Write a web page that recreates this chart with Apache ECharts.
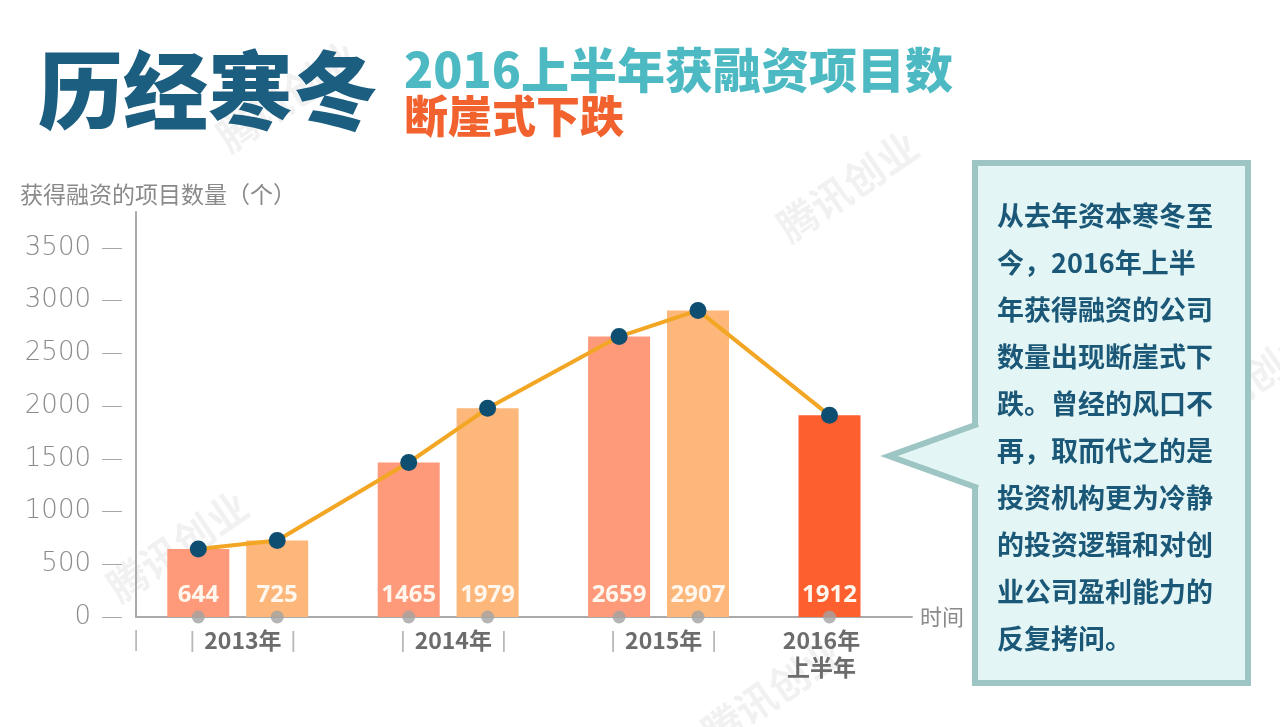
<!DOCTYPE html>
<html>
<head>
<meta charset="utf-8">
<script src="https://cdn.jsdelivr.net/npm/echarts@6/dist/echarts.min.js"></script>
<style>
  html, body { margin: 0; padding: 0; background: #fff; }
  #main { width: 1280px; height: 727px; }
</style>
</head>
<body>
<div id="main"></div>
<script>
// funded projects per half year, 2013 ~ 2016 H1
const years = ['2013年', '2014年', '2015年', '2016年\n上半年'];
const halfYearCounts = [644, 725, 1465, 1979, 2659, 2907, 1912];
const halfYearYear = [0, 0, 1, 1, 2, 2, 3];
const halfYearPart = [0, 1, 0, 1, 0, 1, 0];
const yTicks = [0, 500, 1000, 1500, 2000, 2500, 3000, 3500];
const noteLines = [
  '从去年资本寒冬至',
  '今，2016年上半',
  '年获得融资的公司',
  '数量出现断崖式下',
  '跌。曾经的风口不',
  '再，取而代之的是',
  '投资机构更为冷静',
  '的投资逻辑和对创',
  '业公司盈利能力的',
  '反复拷问。'
];

// bar axis is a row of points: each year gets 8, second half sits 3 after first
const pointsPerYear = 8;
const halfOffset = 3;
const slotCount = 27;
const barSlot = halfYearCounts.map((v, i) => 1 + halfYearYear[i] * pointsPerYear + halfYearPart[i] * halfOffset);
const labelSlot = years.map((y, yi) => {
  const s = barSlot.filter((_, i) => halfYearYear[i] === yi);
  return Math.ceil((s[0] + s[s.length - 1]) / 2);
});

const slots = [];
const barData = [];
const dotData = [];
const baseData = [];
for (let j = 0; j < slotCount; j++) {
  slots.push('p' + j);
  barData.push(null);
  dotData.push(null);
  baseData.push(null);
}
barSlot.forEach((s, i) => {
  barData[s] = halfYearCounts[i];
  dotData[s] = halfYearCounts[i];
  baseData[s] = 0;
});

const barColors = ['#fe9a7a', '#fdb77a'];
const lastColor = '#fe5f2f';
const yMax = 3840;

const chart = echarts.init(document.getElementById('main'));

const watermark = (x, y) => ({
  type: 'text', x: x, y: y, rotation: 0.6, z: 0,
  style: { text: '腾讯创业', fill: 'rgba(0,0,0,0.055)', font: 'bold 40px "Noto Sans CJK SC"' }
});

chart.setOption({
  animation: false,
  backgroundColor: '#fff',
  grid: [
    { left: 136, top: 212, width: 776, height: 405 },
    { left: 172, top: 212, width: 26.3 * (slotCount - 1), height: 405 }
  ],
  xAxis: [
    {
      gridIndex: 0,
      type: 'value',
      min: 0,
      max: 1,
      interval: 1,
      name: '时间',
      nameLocation: 'end',
      nameGap: 8,
      nameTextStyle: { color: '#8a8a8a', fontSize: 22, fontFamily: 'Noto Sans CJK SC' },
      axisLine: { show: true, lineStyle: { color: '#aaa', width: 2 } },
      axisTick: { show: false },
      splitLine: { show: false },
      axisLabel: {
        margin: 12,
        showMaxLabel: false,
        color: '#bbb',
        fontSize: 22,
        fontWeight: 'lighter',
        formatter: (v) => (v === 0 ? '|' : '')
      }
    },
    {
      gridIndex: 1,
      type: 'category',
      boundaryGap: false,
      data: slots,
      axisLine: { show: false },
      axisTick: { show: false },
      axisLabel: {
        interval: 0,
        margin: 10,
        padding: [0, 16, 0, 0],
        formatter: (v, idx) => {
          const yi = labelSlot.indexOf(idx);
          if (yi < 0) return '';
          const parts = years[yi].split('\n');
          if (parts.length > 1) return parts.map((p) => '{t|' + p + '}').join('\n');
          return '{s||}{t|' + parts[0] + '}{s||}';
        },
        rich: {
          t: { fontSize: 23, fontWeight: 'bold', color: '#6c6c6c', lineHeight: 27, align: 'center', padding: [0, 9], fontFamily: 'Noto Sans CJK SC' },
          s: { fontSize: 22, color: '#b8b8b8', align: 'center', fontWeight: 'lighter' }
        }
      }
    }
  ],
  yAxis: [
    {
      gridIndex: 0,
      type: 'value',
      min: 0,
      max: yMax,
      interval: 500,
      name: '获得融资的项目数量（个）',
      nameLocation: 'end',
      nameGap: 6,
      nameTextStyle: { color: '#8a8a8a', fontSize: 23, padding: [0, 0, 0, 44], fontFamily: 'Noto Sans CJK SC' },
      axisLine: { show: true, lineStyle: { color: '#aaa', width: 2 } },
      axisTick: { show: false },
      splitLine: { show: false },
      axisLabel: {
        margin: 13,
        showMaxLabel: false,
        formatter: (v) => (yTicks.indexOf(v) >= 0 ? '{v|' + v + '}{d|—}' : ''),
        rich: {
          v: { fontSize: 26, color: '#8c8c8c', fontFamily: 'DejaVu Sans', fontWeight: 200 },
          d: { fontSize: 22, color: '#9a9a9a', padding: [0, 0, 0, 10], fontFamily: 'DejaVu Sans', fontWeight: 200 }
        }
      }
    },
    {
      gridIndex: 1,
      type: 'value',
      min: 0,
      max: yMax,
      show: false
    }
  ],
  series: [
    {
      type: 'bar',
      xAxisIndex: 1,
      yAxisIndex: 1,
      data: barData,
      barWidth: 62,
      clip: false,
      itemStyle: {
        color: (p) => {
          const i = barSlot.indexOf(p.dataIndex);
          if (i === halfYearCounts.length - 1) return lastColor;
          return barColors[halfYearPart[i]];
        }
      },
      label: {
        show: true,
        position: 'insideBottom',
        distance: 10,
        color: '#fff7ee',
        fontSize: 24,
        fontWeight: 'bold',
        fontFamily: 'Noto Sans'
      }
    },
    {
      type: 'line',
      xAxisIndex: 1,
      yAxisIndex: 1,
      data: dotData,
      connectNulls: true,
      symbol: 'circle',
      symbolSize: 17,
      itemStyle: { color: '#0e4e70' },
      lineStyle: { color: '#f2a624', width: 4 },
      z: 4
    },
    {
      type: 'scatter',
      xAxisIndex: 1,
      yAxisIndex: 1,
      data: baseData,
      symbolSize: 13,
      itemStyle: { color: '#a2a2a2' },
      z: 5
    }
  ],
  graphic: [
    watermark(210, 125),
    watermark(770, 215),
    watermark(100, 575),
    watermark(1170, 410),
    watermark(695, 720),
    // titles
    { type: 'text', left: 38, top: 48, style: { text: '历经寒冬', fill: '#1c5e80', font: '900 85px "Noto Sans CJK SC"' } },
    { type: 'text', left: 404, top: 46, style: { text: '2016上半年获融资项目数', fill: '#4dbac3', font: '900 48px "Noto Sans CJK SC"' } },
    { type: 'text', left: 404, top: 94, style: { text: '断崖式下跌', fill: '#f2622f', font: '900 44px "Noto Sans CJK SC"' } },
    // callout box
    {
      type: 'rect',
      shape: { x: 975, y: 163, width: 273, height: 520 },
      style: { fill: '#e4f5f5', stroke: '#9cc5c3', lineWidth: 6 },
      z: 10
    },
    {
      type: 'polygon',
      shape: { points: [[981, 424], [889, 456], [981, 488]] },
      style: { fill: '#e4f5f5' },
      z: 11
    },
    {
      type: 'polyline',
      shape: { points: [[978, 424], [889, 456], [978, 488]] },
      style: { stroke: '#9cc5c3', lineWidth: 6, fill: null },
      z: 12
    },
    {
      type: 'text',
      x: 997,
      y: 192,
      z: 13,
      style: {
        text: noteLines.join('\n'),
        fill: '#1b5878',
        font: 'bold 27px "Noto Sans CJK SC"',
        lineHeight: 47
      }
    }
  ]
});
</script>
</body>
</html>
